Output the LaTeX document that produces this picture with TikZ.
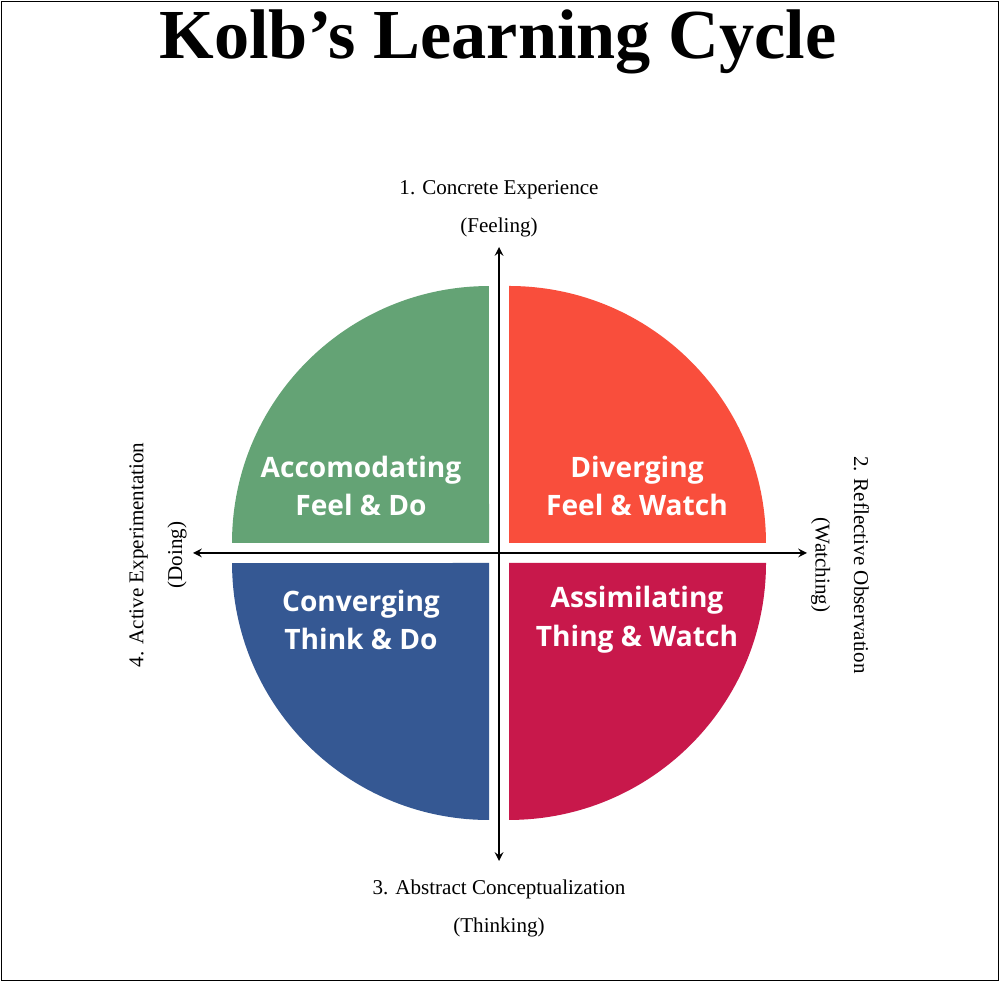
\documentclass[tikz,border=0pt]{standalone}
\usepackage{fontspec}
\setmainfont{Liberation Serif}
\newfontfamily\quadfont{Open Sans}
\usetikzlibrary{positioning}
\definecolor{accgreen}{HTML}{64A375}
\definecolor{divred}{HTML}{F94E3C}
\definecolor{convblue}{HTML}{355893}
\definecolor{assimred}{HTML}{C8184B}
\tikzstyle{darrow} = [line width=1.2pt, <->, >=stealth]
\tikzstyle{quadtext} = [text=white, align=center, font=\quadfont\fontsize{16}{22}\selectfont\bfseries]
\tikzstyle{phase} = [align=center, font=\fontsize{12}{22}\selectfont]

\begin{document}
\begin{tikzpicture}[x=0.02cm, y=0.02cm]
        \useasboundingbox (0,0) rectangle (1000,983);
        \draw[fill=white] (1,3) rectangle (998,982);
        \node (title) at (498,941) {\fontsize{40}{46}\selectfont\bfseries Kolb's Learning Cycle};

        % Quadrants
        \fill[accgreen] (489,440) -- (232,440) arc[start angle=180, end angle=90, radius=5.14cm] -- cycle;
        \fill[divred] (509,440) -- (509,697) arc[start angle=90, end angle=0, radius=5.14cm] -- cycle;
        \fill[convblue] (489,420) -- (489,163) arc[start angle=270, end angle=180, radius=5.14cm] -- cycle;
        \fill[assimred] (509,420) -- (766,420) arc[start angle=0, end angle=-90, radius=5.14cm] -- cycle;

        \node[quadtext] (acc) at (361,497) {Accomodating\\Feel \& Do};
        \node[quadtext] (div) at (637,497) {Diverging\\Feel \& Watch};
        \node[quadtext] (conv) at (361,363) {Converging\\Think \& Do};
        \node[quadtext] (assim) at (637,363) {Assimilating\\Thing \& Watch};

        % Axes
        \coordinate (top) at (499,736);
        \coordinate (bottom) at (499,122);
        \coordinate (left) at (193,430);
        \coordinate (right) at (807,430);
        \draw[darrow] (top) -- (bottom);
        \draw[darrow] (left) -- (right);

        \node[phase, above=2pt of top] (feel) {1. Concrete Experience\\(Feeling)};
        \node[phase, below=7pt of bottom] (think) {3. Abstract Conceptualization\\(Thinking)};
        \node[phase, rotate=-90] (watch) at (840,418) {2. Reflective Observation\\(Watching)};
        \node[phase, rotate=90] (do) at (158,428) {4. Active Experimentation\\(Doing)};
    \end{tikzpicture}
\end{document}
